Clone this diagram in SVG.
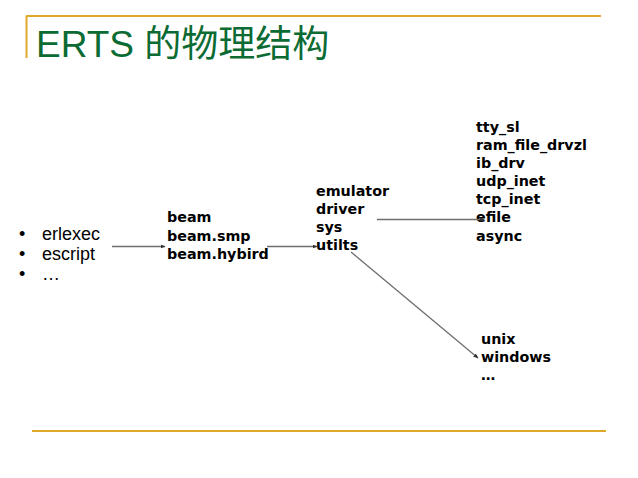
<svg xmlns="http://www.w3.org/2000/svg" width="638" height="478" viewBox="0 0 638 478">
<style>
.rule{stroke:#E0A829;stroke-width:2;fill:none}
.title{font-family:"Liberation Sans","Noto Sans CJK SC",sans-serif;font-size:37px;fill:#0B6B33}
.plain{font-family:"Liberation Sans",Arial,sans-serif;font-size:18px;fill:#000}
.bold{font-family:"DejaVu Sans",Verdana,sans-serif;font-weight:bold;font-size:14.3px;fill:#000}
.conn{stroke:#6E6E6E;stroke-width:1.3;fill:none;marker-end:url(#arr)}
</style>
<defs>
<marker id="arr" viewBox="0 0 10 10" refX="9" refY="5" markerWidth="5" markerHeight="5" orient="auto" markerUnits="userSpaceOnUse">
<path d="M0,1 L10,5 L0,9 z" fill="#333"/>
</marker>
</defs>
<rect width="638" height="478" fill="#fff"/>
<g id="frame">
<line class="rule" x1="26" y1="16" x2="601" y2="16"/>
<line class="rule" x1="26.5" y1="16" x2="26.5" y2="58"/>
<line class="rule" x1="32" y1="431" x2="606" y2="431"/>
</g>
<g id="title"><text class="title" x="36" y="57">ERTS 的物理结构</text></g>
<g id="node-launchers">
<text class="plain" x="19" y="240">•</text>
<text class="plain" x="42" y="240">erlexec</text>
<text class="plain" x="19" y="260">•</text>
<text class="plain" x="42" y="260">escript</text>
<text class="plain" x="19" y="280">•</text>
<text class="plain" x="42" y="280">…</text>
</g>
<g id="node-beam">
<text class="bold" x="167" y="222">beam</text>
<text class="bold" x="167" y="241">beam.smp</text>
<text class="bold" x="167" y="259">beam.hybird</text>
</g>
<g id="node-emulator">
<text class="bold" x="316" y="196">emulator</text>
<text class="bold" x="316" y="214">driver</text>
<text class="bold" x="316" y="232">sys</text>
<text class="bold" x="316" y="250">utilts</text>
</g>
<g id="node-drivers">
<text class="bold" x="476" y="132">tty_sl</text>
<text class="bold" x="476" y="150">ram_file_drvzl</text>
<text class="bold" x="476" y="168">ib_drv</text>
<text class="bold" x="476" y="186">udp_inet</text>
<text class="bold" x="476" y="204">tcp_inet</text>
<text class="bold" x="476" y="222">efile</text>
<text class="bold" x="476" y="241">async</text>
</g>
<g id="node-platforms">
<text class="bold" x="481" y="344">unix</text>
<text class="bold" x="481" y="362">windows</text>
<text class="bold" x="481" y="380">…</text>
</g>
<g id="connectors">
<line class="conn" x1="112" y1="246.5" x2="165" y2="246.5"/>
<line class="conn" x1="267" y1="246.5" x2="317" y2="246.5"/>
<line class="conn" x1="377" y1="219.5" x2="484" y2="219.5"/>
<line class="conn" x1="351" y1="252" x2="478" y2="358"/>
</g>
</svg>
